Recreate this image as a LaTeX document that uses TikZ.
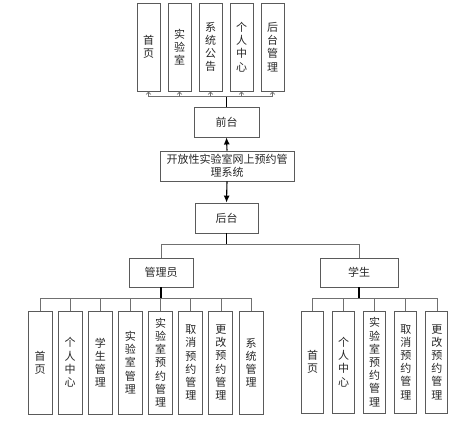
\documentclass[tikz,border=0pt]{standalone}
\usepackage{fontspec}
\newfontfamily\cjk{Noto Sans CJK SC}
\usepackage{tikz}
\usetikzlibrary{calc}
\usetikzlibrary{math}
\usetikzlibrary{arrows.meta}
\definecolor{boxgray}{HTML}{5A5A5A}
\definecolor{linegray}{HTML}{707070}
\tikzset{
    box/.style={draw=boxgray, line width=0.9pt, inner sep=0pt, align=center,
        font=\cjk\fontsize{11}{13.2}\selectfont, text=black!85},
    mainline/.style={draw=black, line width=1.1pt},
    busline/.style={draw=linegray, line width=0.7pt},
}
\begin{document}
\begin{tikzpicture}[x=1pt,y=-1pt]
            \useasboundingbox (0,0) rectangle (474,421);
            \tikzmath{\pasA = 30.15; \pasB = 31.1; \pasT = 31;}
            \node[box, minimum width=65, minimum height=30] (qt) at (226.5,122) {前台};
            \node[box, minimum width=134, minimum height=30] (sys) at (227,166) {开放性实验室网上预约管\\理系统};
            \node[box, minimum width=63, minimum height=30] (ht) at (226.5,218) {后台};
            \node[box, minimum width=64, minimum height=29] (gly) at (161,272.5) {管理员};
            \node[box, minimum width=78, minimum height=29] (xs) at (359,272.5) {学生};
            \foreach \i/\t in {1/{首\\页},2/{实\\验\\室},3/{系\\统\\公\\告},4/{个\\人\\中\\心},5/{后\\台\\管\\理}} {
                \node[box, minimum width=23, minimum height=88] (t\i) at ({148.5+\pasT*(\i-1)},47) {\t};
            }
            \foreach \i/\t in {1/{首\\页},2/{个\\人\\中\\心},3/{学\\生\\管\\理},4/{实\\验\\室\\管\\理},5/{实\\验\\室\\预\\约\\管\\理},6/{取\\消\\预\\约\\管\\理},7/{更\\改\\预\\约\\管\\理},8/{系\\统\\管\\理}} {
                \node[box, minimum width=24, minimum height=103] (a\i) at ({40+\pasA*(\i-1)},362.5) {\t};
            }
            \foreach \i/\t in {1/{首\\页},2/{个\\人\\中\\心},3/{实\\验\\室\\预\\约\\管\\理},4/{取\\消\\预\\约\\管\\理},5/{更\\改\\预\\约\\管\\理}} {
                \node[box, minimum width=22, minimum height=102] (s\i) at ({312.5+\pasB*(\i-1)},362) {\t};
            }
            \draw[mainline, -{Latex[length=7pt,width=6pt]}] (sys.north) -- (qt.south);
            \draw[mainline, -{Latex[length=7pt,width=6pt]}] (sys.south) -- (ht.north);
            \draw[mainline] (qt.north) -- ++(0,-10) coordinate (qb);
            \draw[mainline] (ht.south) -- ++(0,11) coordinate (hb);
            \draw[mainline] (gly.south) -- ++(0,11) coordinate (gb);
            \draw[mainline] (xs.south) -- ++(0,11) coordinate (xb);
            \foreach \i in {1,...,5} {
                \draw[busline, -{Straight Barb[length=2.5pt,width=4.5pt]}] (qb) -| (t\i.south);
            }
            \foreach \n in {gly,xs} {
                \draw[busline] (hb) -| (\n.north);
            }
            \foreach \i in {1,...,8} {
                \draw[busline] (gb) -| (a\i.north);
            }
            \foreach \i in {1,...,5} {
                \draw[busline] (xb) -| (s\i.north);
            }
        \end{tikzpicture}
\end{document}
